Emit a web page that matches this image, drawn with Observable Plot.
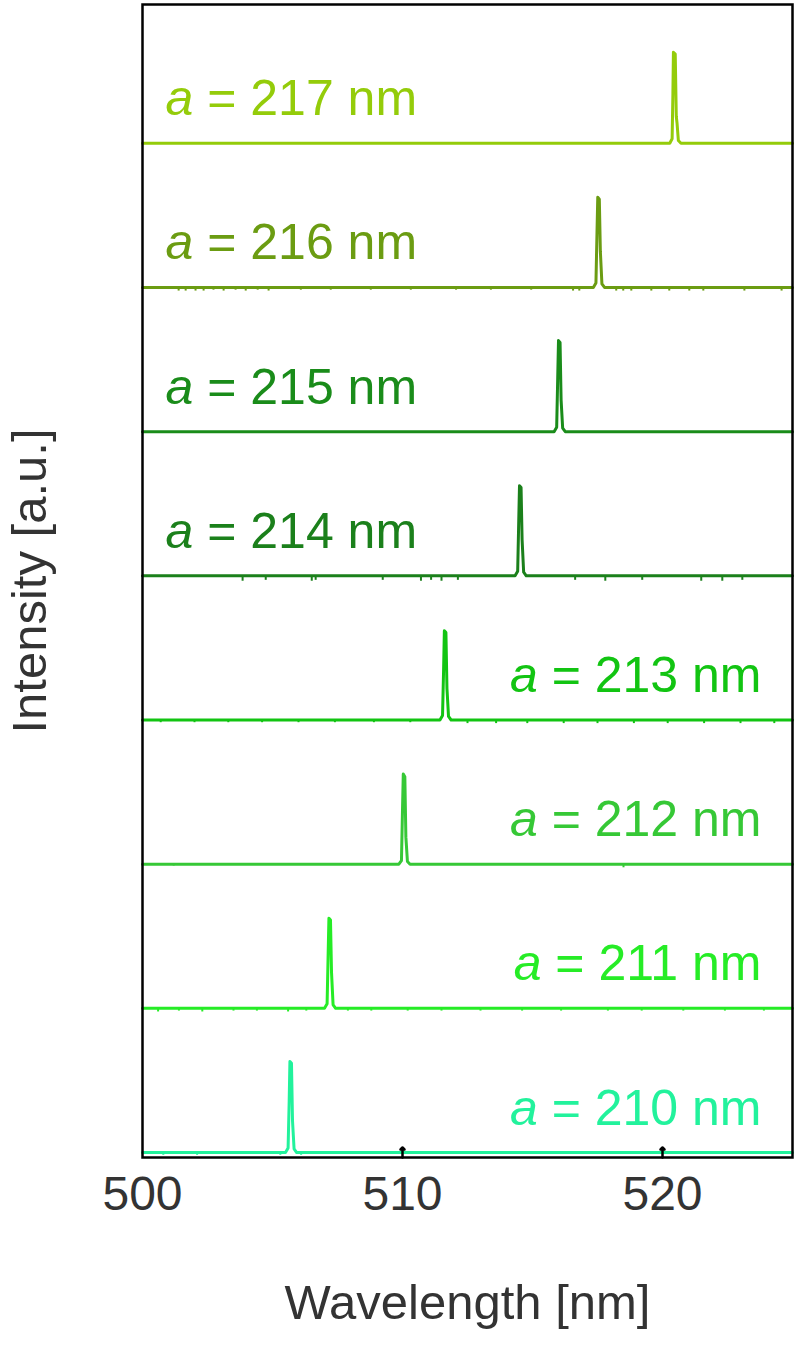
<!DOCTYPE html>
<html><head><meta charset="utf-8">
<script src="https://cdn.jsdelivr.net/npm/d3@7"></script>
<script src="https://cdn.jsdelivr.net/npm/@observablehq/plot@0.6"></script>
<style>body{margin:0;background:#fff} svg{display:block}</style>
</head><body><div id="chart"></div>
<script>
// lattice constants (nm), bottom to top
const latticeConstants = [210, 211, 212, 213, 214, 215, 216, 217];
const seriesColors = ["#22f29c", "#26ec26", "#36c836", "#12c412", "#1b801b", "#1a8c1a", "#6b9c12", "#94cc0a"];
const labelSide = ["right", "right", "right", "right", "left", "left", "left", "left"];
const xTicks = [500, 510, 520];
const offsetStep = 1.6;

// spectra: [wavelength nm, intensity a.u.]
const spectrum210 = [[500,0],[505.50,0],[505.60,0.05],[505.64,0.55],[505.67,1.01],[505.73,0.99],[505.77,0.35],[505.83,0.04],[505.93,0],[525,0]];
const spectrum211 = [[500,0],[507.00,0],[507.10,0.05],[507.14,0.60],[507.17,1.00],[507.23,0.98],[507.27,0.40],[507.33,0.04],[507.43,0],[525,0]];
const spectrum212 = [[500,0],[509.86,0],[509.96,0.04],[510.00,0.60],[510.03,1.00],[510.09,0.97],[510.13,0.30],[510.19,0.03],[510.29,0],[525,0]];
const spectrum213 = [[500,0],[511.44,0],[511.54,0.05],[511.58,0.55],[511.61,0.99],[511.67,0.97],[511.71,0.35],[511.77,0.04],[511.87,0],[525,0]];
const spectrum214 = [[500,0],[514.33,0],[514.43,0.05],[514.47,0.60],[514.50,1.00],[514.56,0.98],[514.60,0.40],[514.66,0.04],[514.76,0],[525,0]];
const spectrum215 = [[500,0],[515.83,0],[515.93,0.05],[515.97,0.60],[516.00,1.01],[516.06,0.99],[516.10,0.35],[516.16,0.04],[516.26,0],[525,0]];
const spectrum216 = [[500,0],[517.34,0],[517.44,0.05],[517.48,0.60],[517.51,1.00],[517.57,0.98],[517.61,0.40],[517.67,0.04],[517.77,0],[525,0]];
const spectrum217 = [[500,0],[520.28,0],[520.37,0.05],[520.40,0.55],[520.42,1.01],[520.49,0.99],[520.53,0.30],[520.56,0.22],[520.61,0.03],[520.71,0],[525,0]];
const spectra = [spectrum210, spectrum211, spectrum212, spectrum213, spectrum214, spectrum215, spectrum216, spectrum217];

// baseline noise dips: [wavelength nm, depth a.u.]
const noise210 = [[500.8,0.03],[502.1,0.03],[503.4,0.02],[505.3,0.03],[506.1,0.03],[506.6,0.02],[508.0,0.02],[511.2,0.02],[512.8,0.02],[515.7,0.02],[518.5,0.02],[521.0,0.02],[523.6,0.02]];
const noise211 = [[500.6,0.04],[501.4,0.03],[502.3,0.04],[503.5,0.03],[504.4,0.03],[505.6,0.04],[506.3,0.03],[507.9,0.03],[508.8,0.03],[510.2,0.03],[511.5,0.03],[513.0,0.03],[514.6,0.03],[516.1,0.03],[517.9,0.03],[519.2,0.03],[520.8,0.03],[522.4,0.03],[523.9,0.03]];
const noise212 = [[501.2,0.02],[518.5,0.04]];
const noise213 = [[500.7,0.03],[502.0,0.03],[503.3,0.03],[504.6,0.03],[506.0,0.03],[507.4,0.03],[508.9,0.03],[510.3,0.03],[512.5,0.04],[513.6,0.04],[514.8,0.04],[516.2,0.04],[517.5,0.04],[518.9,0.04],[520.2,0.04],[521.6,0.04],[523.0,0.04],[524.3,0.04]];
const noise214 = [[503.85,0.06],[504.74,0.05],[506.51,0.06],[506.66,0.05],[509.24,0.05],[510.71,0.06],[511.10,0.05],[511.50,0.06],[512.13,0.05],[516.64,0.05],[517.80,0.06],[519.22,0.05],[521.49,0.06],[522.30,0.06],[523.07,0.05]];
const noise215 = [];
const noise216 = [[501.39,0.04],[501.66,0.04],[502.04,0.04],[502.35,0.04],[502.73,0.03],[503.12,0.04],[503.58,0.03],[503.97,0.04],[504.43,0.03],[504.85,0.04],[506.09,0.03],[507.24,0.03],[508.78,0.03],[510.32,0.03],[512.06,0.03],[513.40,0.03],[514.95,0.03],[516.56,0.04],[516.80,0.04],[518.22,0.04],[518.49,0.04],[518.80,0.04],[519.57,0.04],[520.26,0.04],[521.03,0.04],[521.57,0.04],[523.15,0.04],[524.58,0.04]];
const noise217 = [];
const noises = [noise210, noise211, noise212, noise213, noise214, noise215, noise216, noise217];

const lineData = spectra.flatMap((s, i) => s.map(([w, v]) => ({w, y: v + i * offsetStep, series: latticeConstants[i]})));
const noiseData = noises.flatMap((s, i) => s.map(([w, d]) => ({w, y1: i * offsetStep, y2: i * offsetStep - d, series: latticeConstants[i]})));
const labelData = latticeConstants.map((a, i) => ({a, y: i * offsetStep, side: labelSide[i], text: `a = ${a} nm`}));

const font = "'Liberation Sans', Arial, Helvetica, sans-serif";

const chart = Plot.plot({
  width: 795,
  height: 1349,
  marginLeft: 142,
  marginRight: 3,
  marginTop: 4,
  marginBottom: 192,
  style: {fontFamily: font, fontSize: "48px", color: "#333", background: "#fff"},
  x: {domain: [500, 525]},
  y: {domain: [-0.055, 12.74], axis: null},
  color: {domain: latticeConstants, range: seriesColors},
  marks: [
    Plot.ruleX(noiseData, {x: "w", y1: "y1", y2: "y2", stroke: "series", strokeWidth: 2}),
    Plot.line(lineData, {x: "w", y: "y", z: "series", stroke: "series", strokeWidth: 3, strokeLinejoin: "round"}),
    Plot.text(labelData.filter(d => d.side === "left"), {frameAnchor: "left", y: "y", text: "text", fill: "a", dx: 23, dy: -44, textAnchor: "start", lineAnchor: "middle", fontSize: 50}),
    Plot.text(labelData.filter(d => d.side === "right"), {frameAnchor: "right", y: "y", text: "text", fill: "a", dx: -31, dy: -44, textAnchor: "end", lineAnchor: "middle", fontSize: 50}),
    Plot.frame({stroke: "#000", strokeWidth: 2.5}),
    Plot.vector(xTicks.slice(1), {x: d => d, frameAnchor: "bottom", length: 10, anchor: "start", stroke: "#000", strokeWidth: 2.5}),
    Plot.axisX({ticks: xTicks, tickSize: 0, tickPadding: 18, tickFormat: d => String(d), fontSize: 48, fill: "#333", label: null}),
    Plot.text(["Wavelength [nm]"], {frameAnchor: "bottom", dy: 146, lineAnchor: "middle", textAnchor: "middle", fontSize: 49, fill: "#333"}),
    Plot.text(["Intensity [a.u.]"], {frameAnchor: "left", dx: -112, rotate: -90, lineAnchor: "middle", textAnchor: "middle", fontSize: 49, fill: "#333"})
  ]
});

// italicize the leading "a" in series labels
chart.querySelectorAll("text").forEach(t => {
  const s = t.textContent;
  if (/^a = \d+ nm$/.test(s)) {
    t.textContent = "";
    const ns = "http://www.w3.org/2000/svg";
    const it = document.createElementNS(ns, "tspan");
    it.setAttribute("font-style", "italic");
    it.textContent = "a";
    const rest = document.createElementNS(ns, "tspan");
    rest.textContent = s.slice(1);
    t.appendChild(it); t.appendChild(rest);
  }
});
document.getElementById("chart").appendChild(chart);
</script>
</body></html>
